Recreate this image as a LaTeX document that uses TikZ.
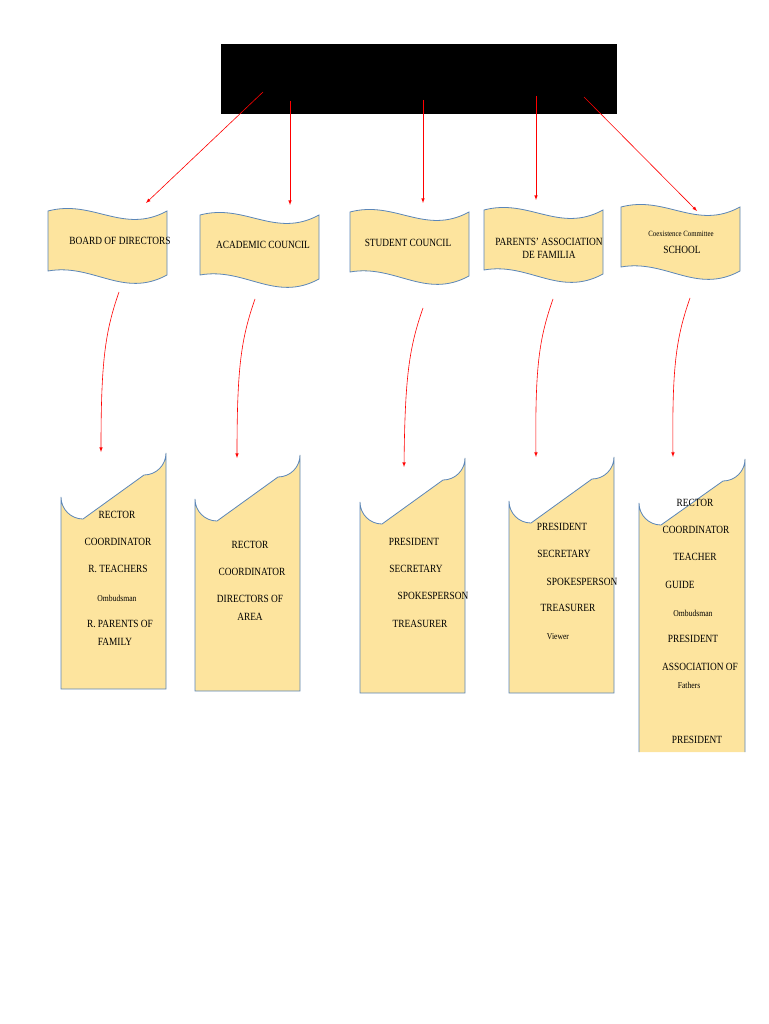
\documentclass[tikz,border=0pt]{standalone}
\usepackage{fontspec}
\setmainfont[FakeStretch=0.85]{Liberation Serif}
\begin{document}
\begin{tikzpicture}[x=1pt,y=-1pt,
 t/.style={font=\fontsize{11}{13}\selectfont,inner sep=0pt,align=center},
 ts/.style={font=\fontsize{9}{11}\selectfont,inner sep=0pt,align=center},
 shp/.style={fill=yellow!35!orange!45!white,fill=bx,draw=bd,line width=0.8pt},
 arr/.style={red,line width=0.6pt,-latex}]
\definecolor{bx}{HTML}{FDE49E}\definecolor{bd}{HTML}{5B86B8}
\useasboundingbox (0,0) rectangle (768,1024);
\fill[black] (221,44) rectangle (617,114);
\coordinate (s1) at (263,92);\coordinate (s2) at (290,101);\coordinate (s3) at (423,100);\coordinate (s4) at (536,96);\coordinate (s5) at (584,97);
\coordinate (e1) at (146,203);\coordinate (e2) at (290,205);\coordinate (e3) at (423,203);\coordinate (e4) at (536,200);\coordinate (e5) at (697,211);
\foreach \i in {1,...,5}{\draw[arr] (s\i) -- (e\i);}
% banners
\foreach \L/\T/\n in {48/211/1,200/215/2,350/212/3,484/210/4,621/207/5}{
 \path[shp] (\L,\T) .. controls (\L+45,\T-12) and (\L+75,\T+24) .. (\L+119,\T)
  -- (\L+119,\T+64) .. controls (\L+75,\T+88) and (\L+45,\T+52) .. (\L,\T+60) -- cycle;
 \coordinate (b\n) at (\L+59,\T+36);}
\node[t] (n1) at (120,241) {BOARD OF DIRECTORS};
\node[t] (n2) at (263,245) {ACADEMIC COUNCIL};
\node[t] (n3) at (408,243) {STUDENT COUNCIL};
\node[t] (n4) at (549,248) {PARENTS' ASSOCIATION\\DE FAMILIA};
\node[ts] (n5a) at (681,234) {\fontsize{8}{9}\selectfont Coexistence Committee};
\node[t] (n5b) at (682,250) {SCHOOL};
% boxes
\foreach \L/\T/\B in {61/475/689,195/477/691,360/480/693,509/479/693}{
 \path[shp] (\L,\B) -- (\L,\T+22) arc[start angle=180,end angle=90,radius=22] -- (\L+83,\T) arc[start angle=90,end angle=0,radius=22] -- (\L+105,\B) -- cycle;}
\fill[bx] (639,752) -- (639,503) arc[start angle=180,end angle=90,radius=22] -- (723,481) arc[start angle=90,end angle=0,radius=22] -- (745,752) -- cycle;
\draw[bd,line width=0.8pt] (639,752) -- (639,503) arc[start angle=180,end angle=90,radius=22] -- (723,481) arc[start angle=90,end angle=0,radius=22] -- (745,752);
% curved arrows
\foreach \a/\b/\c/\d in {119/292/101/452,255/299/237/458,423/308/404/467,553/299/536/457,690/298/673/457}{
 \draw[arr] (\a,\b) .. controls (\a-14,\b+40) and (\a-18,\d-90) .. (\c,\d);}
% box texts
\node[t] at (117,515) {RECTOR};\node[t] at (118,542) {COORDINATOR};\node[t] at (118,569) {R. TEACHERS};
\node[ts] at (117,598) {Ombudsman};\node[t] at (120,624) {R. PARENTS OF};\node[t] at (115,642) {FAMILY};
\node[t] at (250,545) {RECTOR};\node[t] at (252,572) {COORDINATOR};\node[t] at (250,599) {DIRECTORS OF};\node[t] at (250,617) {AREA};
\node[t] at (414,542) {PRESIDENT};\node[t] at (416,569) {SECRETARY};\node[t] at (433,596) {SPOKESPERSON};\node[t] at (420,624) {TREASURER};
\node[t] at (562,527) {PRESIDENT};\node[t] at (564,554) {SECRETARY};\node[t] at (582,582) {SPOKESPERSON};\node[t] at (568,608) {TREASURER};\node[ts] at (558,637) {Viewer};
\node[t] at (695,503) {RECTOR};\node[t] at (696,530) {COORDINATOR};\node[t] at (695,557) {TEACHER};\node[t] at (680,585) {GUIDE};
\node[ts] at (693,613) {Ombudsman};\node[t] at (693,639) {PRESIDENT};\node[t] at (700,667) {ASSOCIATION OF};\node[ts] at (689,685) {Fathers};\node[t] at (697,740) {PRESIDENT};
\end{tikzpicture}
\end{document}
